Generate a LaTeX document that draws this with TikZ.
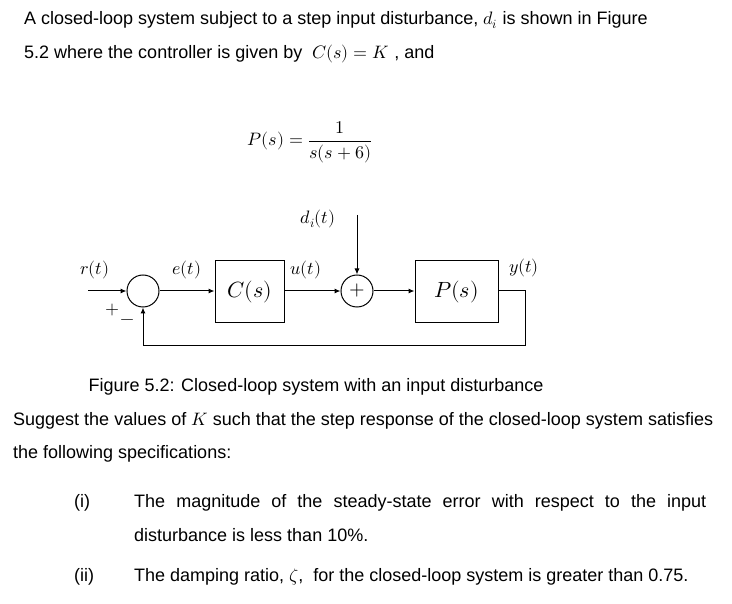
\documentclass[tikz,border=0pt]{standalone}
\usepackage{fontspec}
\setmainfont{Liberation Sans}
\usepackage{unicode-math}
\setmathfont{Latin Modern Math}
\usetikzlibrary{arrows.meta}
\begin{document}
\begin{tikzpicture}[x=1pt,y=-1pt,
  txt/.style={anchor=west,inner sep=0pt,font=\fontsize{18}{21}\selectfont},
  mlab/.style={inner sep=0pt,font=\fontsize{18}{20}\selectfont},
  blk/.style={draw,line width=1pt,minimum width=#1,minimum height=62pt,inner sep=0pt,font=\fontsize{22}{24}\selectfont},
  sumc/.style={draw,circle,line width=1pt,minimum size=32pt,inner sep=0pt},
  sig/.style={line width=1pt,-{Latex[length=6pt,width=5pt]}},
  ln/.style={line width=1pt}]
\useasboundingbox (0,0) rectangle (732,604);
\node[txt] (t1) at (24,20) {A closed-loop system subject to a step input disturbance, $d_i$ is shown in Figure};
\node[txt] (t2) at (24,54) {5.2 where the controller is given by \ $C(s)=K$ , and};
\node[mlab] (pf) at (310,142) {$P(s)=\dfrac{1}{s(s+6)}$};
\node[sumc] (s1) at (143,291) {};
\node[blk=69pt] (C) at (249.5,292) {$C(s)$};
\node[sumc,font=\fontsize{20}{22}\selectfont] (s2) at (357,291) {$+$};
\node[blk=83pt] (P) at (456.5,292) {$P(s)$};
\coordinate (in) at (88,291);
\coordinate (dtop) at (357,215);
\coordinate (o1) at (525,291);
\coordinate (o2) at (525,346);
\coordinate (o3) at (143,346);
\draw[sig] (in) -- (s1);
\draw[sig] (s1) -- (C.west|-s1);
\draw[sig] (C.east|-s2) -- (s2);
\draw[sig] (s2) -- (P.west|-s2);
\draw[sig] (dtop) -- (s2);
\draw[ln] (P.east|-o1) -- (o1) -- (o2) -- (o3);
\draw[sig] (o3) -- (s1);
\node[mlab] (lr) at (95,270) {$r(t)$};
\node[mlab] (le) at (187,270) {$e(t)$};
\node[mlab] (lu) at (306,270) {$u(t)$};
\node[mlab] (ly) at (524,268) {$y(t)$};
\node[mlab] (ld) at (318,219) {$d_i(t)$};
\node[mlab] (lp) at (113,310) {$+$};
\node[mlab] (lm) at (128,322) {$-$};
\node[txt,anchor=center] (cap) at (316,387) {Figure 5.2: Closed-loop system with an input disturbance};
\node[txt] (t3) at (13,421) {Suggest the values of $K$ such that the step response of the closed-loop system satisfies};
\node[txt] (t4) at (13,454) {the following specifications:};
\node[txt] (i1) at (74,503) {(i)};
\node[txt] (i2a) at (134,503) {\makebox[572pt][s]{The magnitude of the steady-state error with respect to the input}};
\node[txt] (i2b) at (134,535) {disturbance is less than 10\%.};
\node[txt] (ii1) at (74,577) {(ii)};
\node[txt] (ii2) at (134,577) {The damping ratio, $\zeta$, \ for the closed-loop system is greater than 0.75.};
\end{tikzpicture}
\end{document}
